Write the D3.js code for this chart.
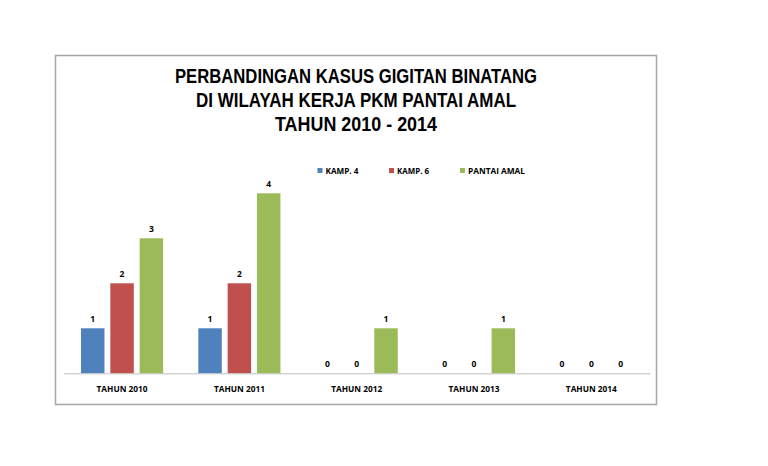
<!DOCTYPE html>
<html>
<head>
<meta charset="utf-8">
<script src="https://cdn.jsdelivr.net/npm/d3@7"></script>
<style>
  html, body { margin: 0; padding: 0; background: #fff; }
  svg { display: block; }
  text { font-family: "Open Sans", "DejaVu Sans", sans-serif; font-weight: bold; fill: #000; }
  text.title { font-family: "Liberation Sans", Arial, sans-serif; }
</style>
</head>
<body>
<div id="container"></div>
<script>
"use strict";

const categories = ["TAHUN 2010", "TAHUN 2011", "TAHUN 2012", "TAHUN 2013", "TAHUN 2014"];
const seriesNames = ["KAMP. 4", "KAMP. 6", "PANTAI AMAL"];
const kamp4 = [1, 1, 0, 0, 0];
const kamp6 = [2, 2, 0, 0, 0];
const pantaiAmal = [3, 4, 1, 1, 0];
const titleLines = [
  "PERBANDINGAN KASUS GIGITAN BINATANG",
  "DI WILAYAH KERJA PKM PANTAI AMAL",
  "TAHUN 2010 - 2014"
];

const colors = ["#4F81BD", "#C0504D", "#9BBB59"];
const seriesValues = [kamp4, kamp6, pantaiAmal];

const width = 768;
const height = 466;

const svg = d3.select("#container")
  .append("svg")
  .attr("width", width)
  .attr("height", height);

// chart frame
svg.append("rect")
  .attr("x", 55.5)
  .attr("y", 55.5)
  .attr("width", 601)
  .attr("height", 349)
  .attr("fill", "#fff")
  .attr("stroke", "#a6a6a6")
  .attr("stroke-width", 1.5);

// title
const titleWidths = [362, 320, 162];
svg.selectAll("text.title")
  .data(titleLines)
  .enter()
  .append("text")
  .attr("class", "title")
  .attr("x", 356)
  .attr("y", (d, i) => 82.5 + i * 24)
  .attr("text-anchor", "middle")
  .attr("font-size", 20)
  .attr("textLength", (d, i) => titleWidths[i])
  .attr("lengthAdjust", "spacingAndGlyphs")
  .text(d => d);

// scales
const x = d3.scaleBand().domain(categories).range([63.4, 650]);
const x1 = d3.scaleBand().domain(seriesNames).range([0, x.bandwidth()])
  .paddingInner(0.2).paddingOuter(0.6);
const y = d3.scaleLinear().domain([0, 4]).range([373.3, 193.3]);

// legend
const legendX = [317.5, 389, 460];
const legendW = [33, 32, 57];
const legend = svg.selectAll("g.legend")
  .data(seriesNames)
  .enter()
  .append("g")
  .attr("class", "legend")
  .attr("transform", (d, i) => `translate(${legendX[i]},170.5)`);
legend.append("rect")
  .attr("x", 0).attr("y", -2.5)
  .attr("width", 5).attr("height", 5)
  .attr("fill", (d, i) => colors[i]);
legend.append("text")
  .attr("x", 8).attr("y", 3)
  .attr("font-size", 8)
  .attr("textLength", (d, i) => legendW[i])
  .attr("lengthAdjust", "spacingAndGlyphs")
  .text(d => d);

// bars
const rows = [];
categories.forEach((c, ci) => {
  seriesNames.forEach((s, si) => {
    rows.push({ cat: c, series: s, value: seriesValues[si][ci], color: colors[si] });
  });
});

const plot = svg.append("g");

plot.selectAll("rect.bar")
  .data(rows)
  .enter()
  .append("rect")
  .attr("class", "bar")
  .attr("x", d => x(d.cat) + x1(d.series))
  .attr("y", d => y(d.value))
  .attr("width", x1.bandwidth())
  .attr("height", d => y(0) - y(d.value))
  .attr("fill", d => d.color);

plot.selectAll("text.val")
  .data(rows)
  .enter()
  .append("text")
  .attr("class", "val")
  .attr("x", d => x(d.cat) + x1(d.series) + x1.bandwidth() / 2)
  .attr("y", d => y(d.value) - 6)
  .attr("text-anchor", "middle")
  .attr("font-size", 8.5)
  .text(d => d.value);

// category axis
const axis = d3.axisBottom(x).tickSize(0).tickPadding(13);
const axisG = svg.append("g")
  .attr("transform", `translate(0,${y(0)})`)
  .call(axis);
axisG.select(".domain").attr("stroke", "#bfbfbf").attr("stroke-width", 1);
axisG.selectAll("text")
  .attr("font-family", "\"Open Sans\", sans-serif")
  .attr("font-weight", "bold")
  .attr("font-size", 8)
  .attr("fill", "#000")
  .attr("textLength", 51)
  .attr("lengthAdjust", "spacingAndGlyphs");
</script>
</body>
</html>
